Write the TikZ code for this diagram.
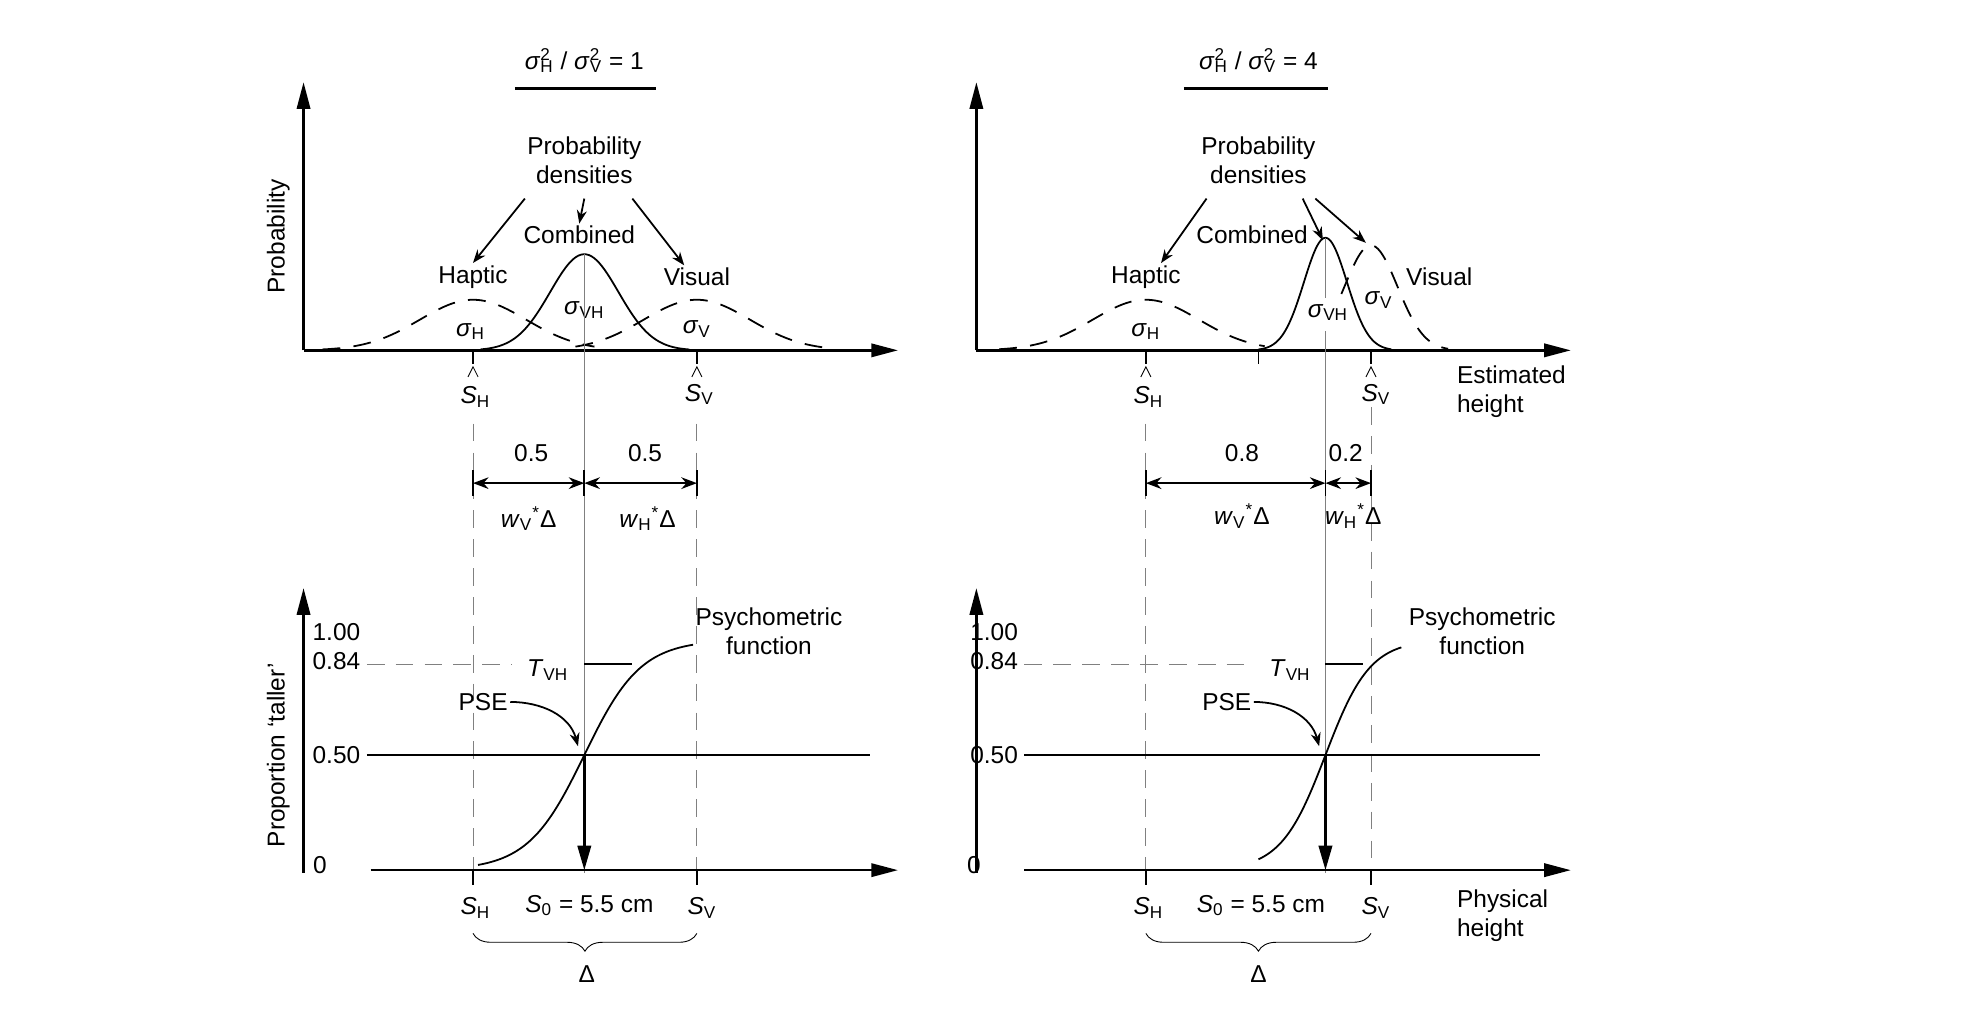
\documentclass[tikz,border=0pt]{standalone}
\usepackage{fontspec}
\setmainfont{Liberation Sans}
\usetikzlibrary{arrows.meta,decorations.pathreplacing}
\newcommand\sg[1]{\textit{σ}\textsubscript{#1}}
\newcommand\sgsq[1]{\textit{σ}\rlap{\textsuperscript{2}}\textsubscript{#1}}
\newcommand\ita[2]{\textit{#1}\textsubscript{#2}}
\newcommand\wt[1]{\textit{w}\textsubscript{#1}\textsuperscript{*}Δ}
\begin{document}
\begin{tikzpicture}[x=0.02cm,y=-0.02cm,font=\fontsize{11}{13}\selectfont,
  axis/.style={line width=1.1pt,-{Triangle[length=12pt,width=6pt]}},
  dsh/.style={thick,dash pattern=on 8pt off 6pt},
  guide/.style={gray,thin},
  gdash/.style={gray,thin,dash pattern=on 8pt off 5pt},
  ptr/.style={thick,-{Stealth[length=6pt]}},
  dbl/.style={thick,{Stealth[length=7pt]}-{Stealth[length=7pt]}},
  lbl/.style={inner sep=1pt}]
\useasboundingbox (0,0) rectangle (1560,799);
% ================= LEFT =================
\node[lbl] (t1) at (462,48) {\sgsq{H} / \sgsq{V} = 1};
\draw[line width=1.6pt] (407,70) -- (519,70);
\coordinate (ay1) at (240,277); \coordinate (ay1t) at (240,65);
\draw[axis] (ay1) -- (ay1t);
\coordinate (ax1e) at (710,277);
\draw[axis] (ay1) -- (ax1e);
\node[rotate=90,lbl] (yl1) at (220,187) {Probability};
\draw[dsh,domain=255:470,samples=80] plot (\x,{277-40*exp(-((\x-374)/42)^2/2)});
\draw[dsh,domain=455:660,samples=80] plot (\x,{277-40*exp(-((\x-551)/42)^2/2)});
\draw[thick,domain=380:545,samples=80] plot (\x,{277-76*exp(-((\x-462)/27)^2/2)});
\node[lbl,align=center] (pd1) at (462,127) {Probability\\densities};
\node[lbl,fill=white] (cb1) at (458,186) {Combined};
\node[lbl] (hp1) at (374,219) {Haptic};
\node[lbl] (vs1) at (551,219) {Visual};
\coordinate (p1a) at (415,157); \coordinate (p1b) at (462,157); \coordinate (p1c) at (500,157);
\draw[ptr] (p1a) -- (hp1.north);
\draw[ptr] (p1b) -- (cb1.north);
\draw[ptr] (p1c) -- (vs1.north -| 541,0);
\node[lbl] (sh1) at (372,262) {\sg{H}};
\node[lbl] (svh1) at (462,245) {\sg{VH}};
\node[lbl] (sv1) at (551,260) {\sg{V}};
\foreach \xx in {374,551}{
  \draw[thick] (\xx,277) -- (\xx,288);
  \draw[thin] (\xx-4,298) -- (\xx,290) -- (\xx+4,298);
}
\node[lbl] (SH1) at (376,314) {\ita{S}{H}};
\node[lbl] (SV1) at (553,312) {\ita{S}{V}};
\draw[gdash] (374,335) -- (374,690);
\draw[gdash] (551,335) -- (551,690);
\draw[guide] (462,201) -- (462,690);
\node[lbl] at (420,358) {0.5};
\node[lbl] at (510,358) {0.5};
\foreach \xx in {374,462,551}{\draw[thick] (\xx,372) -- (\xx,392);}
\coordinate (w1a) at (374,382); \coordinate (w1b) at (462,382); \coordinate (w1c) at (551,382);
\draw[dbl] (w1a) -- (w1b);
\draw[dbl] (w1b) -- (w1c);
\node[lbl] at (418,410) {\wt{V}};
\node[lbl] at (512,410) {\wt{H}};
\coordinate (by1) at (240,690); \coordinate (by1t) at (240,465);
\draw[axis] (by1) -- (by1t);
\coordinate (bx1s) at (293,688); \coordinate (bx1e) at (710,688);
\draw[axis] (bx1s) -- (bx1e);
\node[rotate=90,lbl] at (220,597) {Proportion ‘taller’};
\node[lbl] at (266,500) {1.00};
\node[lbl] at (266,523) {0.84};
\node[lbl] at (266,597) {0.50};
\node[lbl] at (253,684) {0};
\draw[gdash] (290,525) -- (405,525);
\node[lbl] at (433,530) {\ita{T}{VH}};
\draw[thick] (462,525) -- (500,525);
\draw[thick] (290,597) -- (688,597);
\draw[thick,domain=378:548,samples=80] plot (\x,{688-182/(1+exp(-1.702*(\x-462)/38))});
\draw[line width=1.2pt,-{Triangle[length=11pt,width=6pt]}] (462,597) -- (462,688);
\node[lbl] (pse1) at (382,555) {PSE};
\draw[ptr] (pse1.east) to[out=0,in=105] (457,590);
\node[lbl,align=center] at (608,499) {Psychometric\\function};
\draw[thick] (374,688) -- (374,700);
\draw[thick] (551,688) -- (551,700);
\node[lbl] at (376,718) {\ita{S}{H}};
\node[lbl] at (466,716) {\ita{S}{0} = 5.5 cm};
\node[lbl] at (555,718) {\ita{S}{V}};
\draw[thin,decorate,decoration={brace,mirror,amplitude=8pt}] (374,738) -- (551,738);
\node[lbl] at (464,770) {Δ};
% ================= RIGHT =================
\node[lbl] (t2) at (995,48) {\sgsq{H} / \sgsq{V} = 4};
\draw[line width=1.6pt] (936,70) -- (1050,70);
\coordinate (ay2) at (772,277); \coordinate (ay2t) at (772,65);
\draw[axis] (ay2) -- (ay2t);
\coordinate (ax2e) at (1242,277);
\draw[axis] (ay2) -- (ax2e);
\draw[dsh,domain=790:1000,samples=80] plot (\x,{277-40*exp(-((\x-906)/42)^2/2)});
\draw[dsh,domain=1050:1145,samples=80] plot (\x,{277-83*exp(-((\x-1084)/21)^2/2)});
\draw[thick,domain=995:1100,samples=80] plot (\x,{277-89*exp(-((\x-1048)/17)^2/2)});
\draw[thick] (995,277) -- (995,288);
\node[lbl,align=center] (pd2) at (995,127) {Probability\\densities};
\node[lbl] (cb2) at (990,186) {Combined};
\node[lbl] (hp2) at (906,219) {Haptic};
\node[lbl,fill=white] (vs2) at (1138,219) {Visual};
\coordinate (p2a) at (954,157); \coordinate (p2b) at (1030,157); \coordinate (p2c) at (1040,157);
\coordinate (p2ae) at (918,208); \coordinate (p2be) at (1046,190); \coordinate (p2ce) at (1080,192);
\draw[ptr] (p2a) -- (p2ae);
\draw[ptr] (p2b) -- (p2be);
\draw[ptr] (p2c) -- (p2ce);
\node[lbl] (sh2) at (906,262) {\sg{H}};
\node[lbl,fill=white] (svh2) at (1050,247) {\sg{VH}};
\node[lbl] (sv2) at (1090,237) {\sg{V}};
\foreach \xx in {906,1084}{
  \draw[thick] (\xx,277) -- (\xx,288);
  \draw[thin] (\xx-4,298) -- (\xx,290) -- (\xx+4,298);
}
\node[lbl] at (908,314) {\ita{S}{H}};
\node[lbl] at (1088,312) {\ita{S}{V}};
\node[lbl,align=left,anchor=west] at (1150,310) {Estimated\\height};
\draw[gdash] (906,335) -- (906,690);
\draw[gdash] (1084,322) -- (1084,690);
\draw[guide] (1048,262) -- (1048,690);
\draw[guide] (1048,188) -- (1048,236);
\node[lbl] at (982,358) {0.8};
\node[lbl] at (1064,358) {0.2};
\foreach \xx in {906,1048,1084}{\draw[thick] (\xx,372) -- (\xx,392);}
\coordinate (w2a) at (906,382); \coordinate (w2b) at (1048,382); \coordinate (w2c) at (1084,382);
\draw[dbl] (w2a) -- (w2b);
\draw[dbl] (w2b) -- (w2c);
\node[lbl] at (982,408) {\wt{V}};
\node[lbl] at (1070,408) {\wt{H}};
\coordinate (by2) at (772,690); \coordinate (by2t) at (772,465);
\draw[axis] (by2) -- (by2t);
\coordinate (bx2s) at (810,688); \coordinate (bx2e) at (1242,688);
\draw[axis] (bx2s) -- (bx2e);
\node[lbl] at (786,500) {1.00};
\node[lbl] at (786,523) {0.84};
\node[lbl] at (786,597) {0.50};
\node[lbl] at (770,684) {0};
\draw[gdash] (810,525) -- (990,525);
\node[lbl] at (1020,530) {\ita{T}{VH}};
\draw[thick] (1048,525) -- (1078,525);
\draw[thick] (810,597) -- (1218,597);
\draw[thick,domain=995:1108,samples=80] plot (\x,{688-182/(1+exp(-1.702*(\x-1048)/30))});
\draw[line width=1.2pt,-{Triangle[length=11pt,width=6pt]}] (1048,597) -- (1048,688);
\node[lbl] (pse2) at (970,555) {PSE};
\draw[ptr] (pse2.east) to[out=0,in=105] (1043,590);
\node[lbl,align=center] at (1172,499) {Psychometric\\function};
\draw[thick] (906,688) -- (906,700);
\draw[thick] (1084,688) -- (1084,700);
\node[lbl] at (908,718) {\ita{S}{H}};
\node[lbl] at (997,716) {\ita{S}{0} = 5.5 cm};
\node[lbl] at (1088,718) {\ita{S}{V}};
\node[lbl,align=left,anchor=west] at (1150,724) {Physical\\height};
\draw[thin,decorate,decoration={brace,mirror,amplitude=8pt}] (906,738) -- (1084,738);
\node[lbl] at (995,770) {Δ};
\end{tikzpicture}
\end{document}
